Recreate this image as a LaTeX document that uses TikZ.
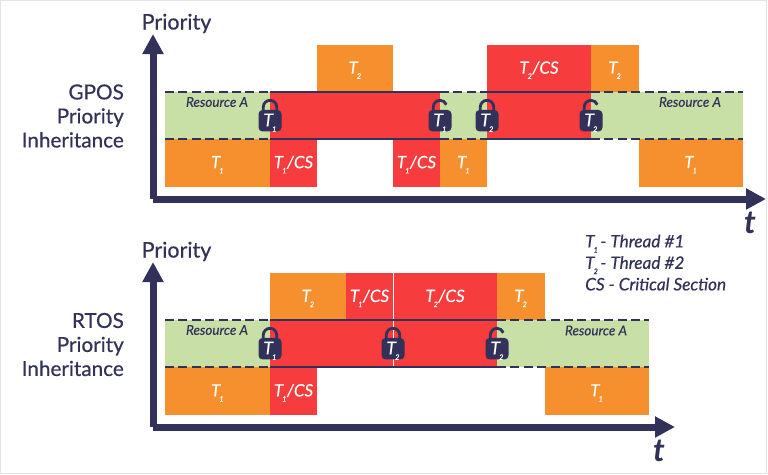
\documentclass[tikz,border=0pt]{standalone}
\usepackage{fontspec}
\setmainfont{Lato}
\usetikzlibrary{arrows.meta}
\definecolor{navy}{HTML}{31315A}
\definecolor{orangeb}{HTML}{F6902F}
\definecolor{redb}{HTML}{F73C3E}
\definecolor{greenb}{HTML}{C8E0A6}
\definecolor{frameg}{HTML}{E4E4E4}
\newfontfamily\headfont[FakeBold=0.45]{Lato}
\newfontfamily\blockfont[FakeBold=0.2]{Lato}
\newcommand{\Tn}[1]{T\kern-.06em\raisebox{-.3em}{\fontsize{7.5}{7.5}\selectfont #1}\kern.02em}
\newcommand{\capcentre}[1]{\smash{\raisebox{-.32em}{#1}}}
\tikzset{
  x=1pt,y=-1pt,
  blockbox/.style={inner sep=0,outer sep=0,text=white,font=\blockfont\itshape\fontsize{17}{17}\selectfont},
  axisline/.style={draw=navy,line width=7pt,line join=round,-{Triangle[width=20pt,length=20pt]}},
  headlabel/.style={text=navy,font=\headfont\fontsize{21.5}{24}\selectfont,inner sep=0},
  sidelabel/.style={text=navy,font=\headfont\fontsize{20.7}{24}\selectfont,inner sep=0,anchor=east,align=right},
  reslabel/.style={text=navy,font=\blockfont\itshape\fontsize{13.5}{14}\selectfont,inner sep=0},
  timelabel/.style={text=navy,font=\bfseries\itshape\fontsize{32}{32}\selectfont,inner sep=0},
  legendlabel/.style={text=navy,font=\headfont\itshape\fontsize{17.2}{21.5}\selectfont,inner sep=0,anchor=north west,align=left},
  dashline/.style={draw=navy,line width=1.5pt,dash pattern=on 9pt off 4.4pt},
  solidline/.style={draw=navy,line width=1.5pt},
  lockbody/.style={fill=navy,rounded corners=4pt,inner sep=0,outer sep=0,minimum width=23pt,minimum height=21.5pt,text=white,font=\blockfont\itshape\fontsize{18}{18}\selectfont},
  shackle/.style={draw=navy,line width=2.8pt},
}
% name, x1, y1, x2, y2, colour, text
\newcommand{\blk}[7]{\node[blockbox,fill=#6,minimum width={(#4-#2)*1pt},minimum height={(#5-#3)*1pt}] (#1) at ({(#2+#4)/2},{(#3+#5)/2}) {\capcentre{#7}};}
% name, x, band top, label  (y runs downward, so the upper half of a circle is 180 to 360)
\newcommand{\lockclosed}[4]{%
  \draw[shackle] (#2-6.7,#3+18) -- (#2-6.7,#3+15) arc[start angle=180,end angle=360,radius=6.7] -- (#2+6.7,#3+18);
  \node[lockbody] (#1) at (#2,#3+28.7) {\capcentre{#4}};}
\newcommand{\lockopen}[4]{%
  \draw[shackle] (#2-6.7,#3+18) -- (#2-6.7,#3+15) arc[start angle=180,end angle=340,radius=6.7];
  \node[lockbody] (#1) at (#2,#3+28.7) {\capcentre{#4}};}
\begin{document}
\begin{tikzpicture}
\useasboundingbox (0,0) rectangle (768,474);
\fill[white] (0,0) rectangle (768,474);
\draw[frameg,line width=1.5pt] (0.5,0.5) rectangle (766.5,473.5);

% ---------- GPOS chart
\fill[greenb] (165,92) rectangle (743,139);
\fill[redb] (270,92) rectangle (440,139);
\fill[redb] (487,92) rectangle (591,139);
\blk{ga}{165}{139}{270}{186.5}{orangeb}{\Tn{1}}
\blk{gb}{270}{139}{317}{186.5}{redb}{\Tn{1}/CS}
\blk{gc}{393}{139}{440}{186.5}{redb}{\Tn{1}/CS}
\blk{gd}{440}{139}{487}{186.5}{orangeb}{\Tn{1}}
\blk{ge}{638.5}{139}{743}{186.5}{orangeb}{\Tn{1}}
\blk{gf}{317}{44.5}{393}{92}{orangeb}{\Tn{2}}
\blk{gg}{487}{44.5}{591}{92}{redb}{\Tn{2}/CS}
\blk{gh}{591}{44.5}{638.5}{92}{orangeb}{\Tn{2}}
\draw[dashline] (165,92) -- (270,92) (165,139) -- (270,139);
\draw[dashline] (440,92) -- (487,92) (440,139) -- (487,139);
\draw[dashline] (591,92) -- (743,92) (591,139) -- (743,139);
\draw[solidline] (270,92) -- (440,92) (270,139) -- (440,139);
\draw[solidline] (487,92) -- (591,92) (487,139) -- (591,139);
\node[reslabel] (gr1) at (217,102) {Resource A};
\node[reslabel] (gr2) at (690,102) {Resource A};
\lockclosed{gl1}{270}{92}{\Tn{1}}
\lockopen{gl2}{440}{92}{\Tn{1}}
\lockclosed{gl3}{487}{92}{\Tn{2}}
\lockopen{gl4}{591}{92}{\Tn{2}}
\coordinate (gtop) at (153,34);
\coordinate (gcorner) at (153,199);
\coordinate (gright) at (766,199);
\draw[axisline] (gcorner) -- (gright);
\draw[axisline] (gcorner) -- (gtop);
\node[headlabel] (gpri) at (176.5,23.5) {Priority};
\node[timelabel] (gt) at (750,223) {t};
\node[sidelabel] (gside) at (124,116) {GPOS\\Priority\\Inheritance};

% ---------- RTOS chart
\fill[greenb] (165,320) rectangle (649,367);
\fill[redb] (270,320) rectangle (497,367);
\blk{ra}{165}{367}{270}{415}{orangeb}{\Tn{1}}
\blk{rb}{270}{367}{317}{415}{redb}{\Tn{1}/CS}
\blk{rc}{544.5}{367}{649}{415}{orangeb}{\Tn{1}}
\blk{rd}{270}{273}{346}{320}{orangeb}{\Tn{2}}
\blk{re}{346}{273}{393}{320}{redb}{\Tn{1}/CS}
\blk{rf}{393}{273}{497}{320}{redb}{\Tn{2}/CS}
\blk{rg}{497}{273}{544.5}{320}{orangeb}{\Tn{2}}
\draw[white,line width=.7pt] (393,273) -- (393,367);
\draw[dashline] (165,320) -- (270,320) (165,367) -- (270,367);
\draw[dashline] (497,320) -- (649,320) (497,367) -- (649,367);
\draw[solidline] (270,320) -- (497,320) (270,367) -- (497,367);
\node[reslabel] (rr1) at (217,330) {Resource A};
\node[reslabel] (rr2) at (596,330.5) {Resource A};
\lockclosed{rl1}{270}{320}{\Tn{1}}
\lockclosed{rl2}{393}{320}{\Tn{2}}
\lockopen{rl3}{497}{320}{\Tn{2}}
\coordinate (rtop) at (153,262);
\coordinate (rcorner) at (153,427);
\coordinate (rright) at (675,427);
\draw[axisline] (rcorner) -- (rright);
\draw[axisline] (rcorner) -- (rtop);
\node[headlabel] (rpri) at (176.5,251.5) {Priority};
\node[timelabel] (rt) at (659,451) {t};
\node[sidelabel] (rside) at (124,344.5) {RTOS\\Priority\\Inheritance};

% ---------- legend
\node[legendlabel] (legend) at (585,234.5) {\Tn{1}\kern.12em- Thread \#1\\\Tn{2}\kern.12em- Thread \#2\\CS - Critical Section};
\end{tikzpicture}
\end{document}
